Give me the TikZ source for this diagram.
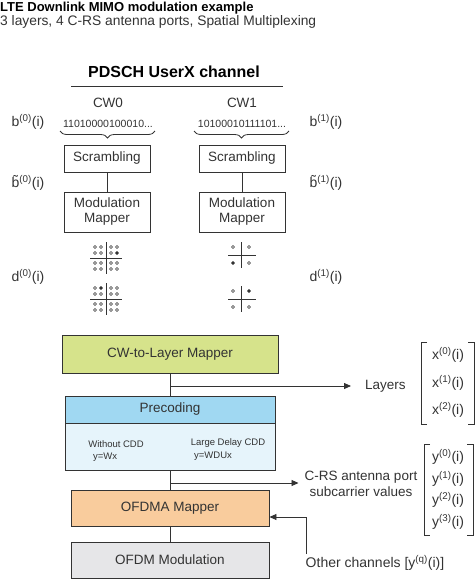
\documentclass[tikz,border=0pt]{standalone}
\usepackage{fontspec}
\setmainfont{Liberation Sans}
\usetikzlibrary{arrows.meta,decorations.pathreplacing}

\definecolor{inkgray}{HTML}{333333}
\definecolor{layergreen}{HTML}{D6E38B}
\definecolor{precblue}{HTML}{A0D8F2}
\definecolor{preclight}{HTML}{E6F4FB}
\definecolor{ofdmaorange}{HTML}{F9CC9D}
\definecolor{ofdmgray}{HTML}{E6E6E8}

\tikzset{
	txt/.style={inner sep=0pt,text=inkgray,font=\fontsize{13.5pt}{16pt}\selectfont},
	sig/.style={txt,font=\fontsize{14pt}{16pt}\selectfont},
	small/.style={txt,font=\fontsize{9.5pt}{11pt}\selectfont},
	blk/.style={draw=inkgray,line width=0.9pt,inner sep=0pt,text=inkgray,
		font=\fontsize{13.5pt}{15pt}\selectfont,align=center},
	link/.style={draw=inkgray,line width=0.8pt},
	arr/.style={link,-{Triangle[length=7pt,width=6pt]}},
	pt/.style={draw=inkgray,line width=0.5pt},
}

\begin{document}
\begin{tikzpicture}[x=1pt,y=-1pt]
	\useasboundingbox (0,0) rectangle (476,579);

	% Title
	\node[txt,anchor=west,text=black,font=\bfseries\fontsize{13pt}{15pt}\selectfont] (title) at (0,8) {LTE Downlink MIMO modulation example};
	\node[txt,anchor=west,font=\fontsize{13.8pt}{16pt}\selectfont] (subtitle) at (0,22) {3 layers, 4 C-RS antenna ports, Spatial Multiplexing};
	\node[txt,text=black,font=\bfseries\fontsize{16pt}{18pt}\selectfont] (pdsch) at (174,72) {PDSCH UserX channel};
	\draw[link] (71,86) -- (283,86);

	% Codewords
	\node[txt] (cw0) at (108,103) {CW0};
	\node[txt] (cw1) at (242,103) {CW1};
	\node[txt,font=\fontsize{10.5pt}{12pt}\selectfont] (bits0) at (108,124) {11010000100010...};
	\node[txt,font=\fontsize{10.5pt}{12pt}\selectfont] (bits1) at (242,124) {10100010111101...};
	\draw[link,decorate,decoration={brace,mirror,amplitude=7pt}] (60,131) -- (155,131);
	\draw[link,decorate,decoration={brace,mirror,amplitude=7pt}] (194,131) -- (289,131);

	% Signal names
	\node[sig] (b0) at (28,122) {b\textsuperscript{(0)}(i)};
	\node[sig] (b1) at (326,122) {b\textsuperscript{(1)}(i)};
	\node[sig] (bt0) at (28,183) {b\char"0303\textsuperscript{(0)}(i)};
	\node[sig] (bt1) at (326,183) {b\char"0303\textsuperscript{(1)}(i)};
	\node[sig] (d0) at (28,277) {d\textsuperscript{(0)}(i)};
	\node[sig] (d1) at (326,277) {d\textsuperscript{(1)}(i)};

	% Codeword chains
	\node[blk,minimum width=86pt,minimum height=27pt] (scr0) at (107,158.5) {Scrambling};
	\node[blk,minimum width=86pt,minimum height=27pt] (scr1) at (242,158.5) {Scrambling};
	\node[blk,minimum width=86pt,minimum height=40pt] (mod0) at (107,212) {Modulation\\Mapper};
	\node[blk,minimum width=86pt,minimum height=40pt] (mod1) at (242,212) {Modulation\\Mapper};
	\draw[link] (scr0) -- (mod0);
	\draw[link] (scr1) -- (mod1);

	% Constellations
	\foreach \cy/\fx/\fy in {258/11/-5, 299/-5/-11} {
		\draw[pt] (90,\cy) -- (122,\cy);
		\draw[pt] (106,\cy-16) -- (106,\cy+16);
		\foreach \dx in {-11,-5,5,11}
			\foreach \dy in {-11,-5,5,11}
				\draw[pt] (106+\dx,\cy+\dy) circle (1.5pt);
		\fill[inkgray] (106+\fx,\cy+\fy) circle (1.6pt);
	}
	\foreach \cy/\fx/\fy in {255/-8/8, 299/8/-8} {
		\draw[pt] (228,\cy) -- (256,\cy);
		\draw[pt] (241,\cy-13) -- (241,\cy+13);
		\foreach \dx in {-8,8}
			\foreach \dy in {-8,8}
				\draw[pt] (241+\dx,\cy+\dy) circle (1.5pt);
		\fill[inkgray] (241+\fx,\cy+\fy) circle (1.6pt);
	}

	% Common chain
	\node[blk,fill=layergreen,minimum width=216pt,minimum height=38pt] (layer) at (170,354) {CW-to-Layer Mapper};
	\node[blk,fill=precblue,minimum width=210pt,minimum height=27pt] (prec) at (170,409.5) {Precoding};
	\node[blk,fill=preclight,minimum width=210pt,minimum height=47pt] (precbody) at (170,446.5) {};
	\node[small] (nocdd) at (116,444) {Without CDD};
	\node[small,anchor=west] (nocddeq) at (93,457) {y=Wx};
	\node[small] (ldcdd) at (228,443) {Large Delay CDD};
	\node[small,anchor=west] (ldcddeq) at (194,456) {y=WDUx};
	\node[blk,fill=ofdmaorange,minimum width=198pt,minimum height=36pt] (ofdma) at (170,508) {OFDMA Mapper};
	\node[blk,fill=ofdmgray,minimum width=198pt,minimum height=36pt] (ofdm) at (170,560) {OFDM Modulation};

	\draw[link] (layer) -- (prec);
	\draw[link] (precbody) -- (ofdma);
	\draw[link] (ofdma) -- (ofdm);

	% Outputs
	\node[txt,anchor=west] (layers) at (365,386) {Layers};
	\node[txt,align=center] (crs) at (361,484) {C-RS antenna port\\subcarrier values};
	\coordinate (lyrtap) at (170,386);
	\coordinate (crstap) at (170,483);
	\draw[arr,shorten >=14pt] (lyrtap) -- (layers.west);
	\draw[arr,shorten >=6pt] (crstap) -- (crs.west |- crstap);

	\node[sig] (other) at (375,563) {Other channels [y\textsuperscript{(q)}(i)]};
	\coordinate (othfoot) at (306,554);
	\draw[arr] (othfoot) |- ([yshift=-9pt]ofdma.east);

	% Layer vector
	\node[sig] (x0) at (448,355) {x\textsuperscript{(0)}(i)};
	\node[sig] (x1) at (448,383) {x\textsuperscript{(1)}(i)};
	\node[sig] (x2) at (448,410) {x\textsuperscript{(2)}(i)};
	\draw[link] (427,342) -- (421,342) -- (421,424) -- (427,424);
	\draw[link] (468,342) -- (474,342) -- (474,424) -- (468,424);

	% Antenna port vector
	\node[sig] (y0) at (448,457) {y\textsuperscript{(0)}(i)};
	\node[sig] (y1) at (448,479) {y\textsuperscript{(1)}(i)};
	\node[sig] (y2) at (448,500) {y\textsuperscript{(2)}(i)};
	\node[sig] (y3) at (448,522) {y\textsuperscript{(3)}(i)};
	\draw[link] (430,444) -- (424,444) -- (424,535) -- (430,535);
	\draw[link] (467,444) -- (473,444) -- (473,535) -- (467,535);
\end{tikzpicture}
\end{document}
